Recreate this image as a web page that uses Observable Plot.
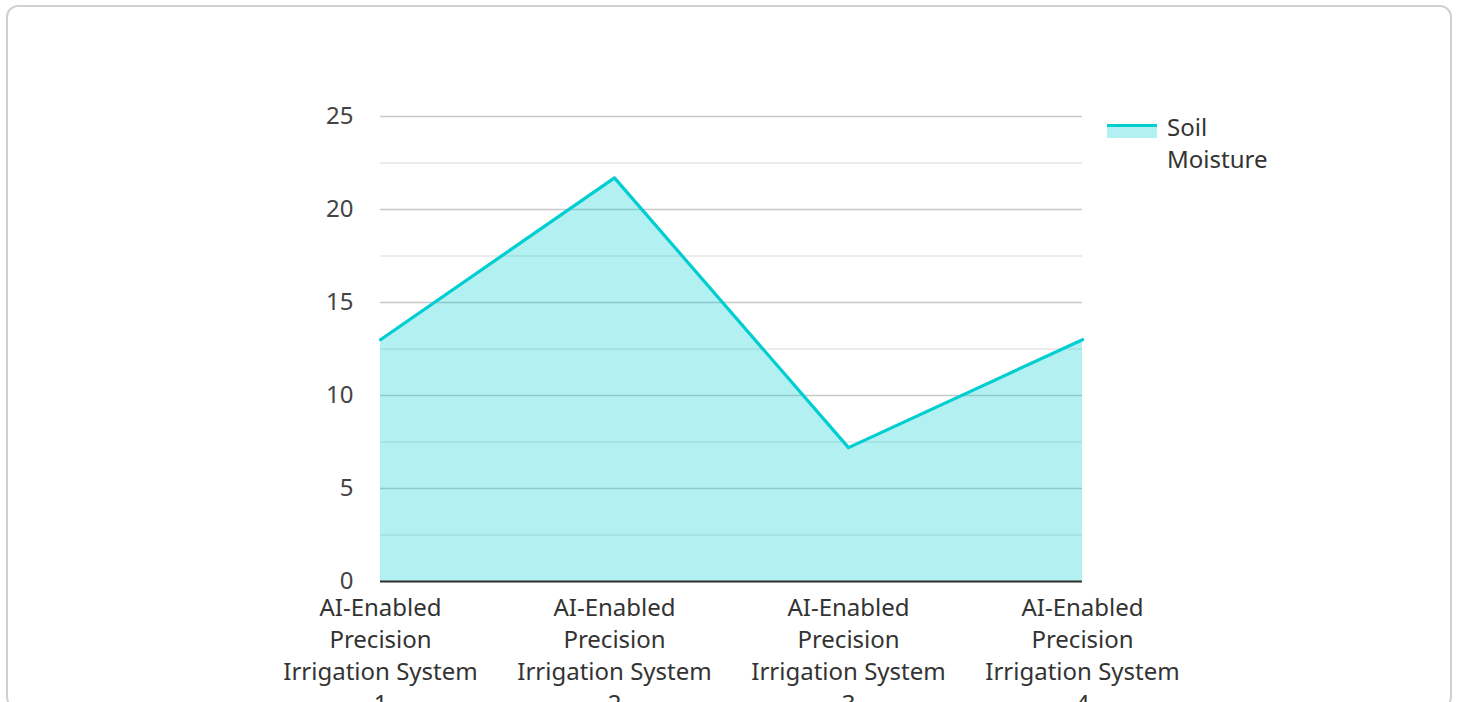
<!DOCTYPE html>
<html>
<head>
<meta charset="utf-8">
<script src="https://cdn.jsdelivr.net/npm/d3@7"></script>
<script src="https://cdn.jsdelivr.net/npm/@observablehq/plot@0.6"></script>
<style>
  html, body { margin: 0; padding: 0; background: #fff; width: 1458px; height: 702px; overflow: hidden; font-family: "Noto Sans", sans-serif; }
  #card { position: absolute; left: 6px; top: 5px; width: 1442px; height: 700px; border: 2px solid #d0d0d0; border-radius: 12px; box-sizing: content-box; }
  #chart { position: absolute; left: 0; top: 0; }
  #legend { position: absolute; left: 1107px; top: 111px; display: flex; align-items: flex-start; font-size: 24px; color: #333; line-height: 32px; }
  #legend .sw { width: 50px; height: 14px; margin-top: 13px; background: rgb(179,240,241); border-top: 3px solid #00ced1; box-sizing: border-box; }
  #legend .lb { margin-left: 10px; }
</style>
</head>
<body>
<div id="card"></div>
<div id="chart"></div>
<div id="legend"><div class="sw"></div><div class="lb">Soil<br>Moisture</div></div>
<script>
const categories = [
  "AI-Enabled Precision Irrigation System 1",
  "AI-Enabled Precision Irrigation System 2",
  "AI-Enabled Precision Irrigation System 3",
  "AI-Enabled Precision Irrigation System 4"
];
const soilMoisture = [13, 21.7, 7.2, 13];
const yTicks = [0, 5, 10, 15, 20, 25];
const yMinor = [2.5, 7.5, 12.5, 17.5, 22.5];

const data = categories.map((c, i) => ({category: c, value: soilMoisture[i]}));
const wrap = s => s.replace("AI-Enabled ", "AI-Enabled\n").replace("Precision ", "Precision\n").replace(/ (\d+)$/, "\n$1");

const chart = Plot.plot({
  width: 1458,
  height: 702,
  marginLeft: 380,
  marginRight: 376,
  marginTop: 116,
  marginBottom: 121,
  style: {fontFamily: "Noto Sans, sans-serif", fontSize: "24px", color: "#444", background: "transparent", overflow: "visible"},
  x: {type: "point", domain: categories, padding: 0, label: null},
  y: {domain: [0, 25], label: null},
  marks: [
    Plot.ruleY(yMinor, {stroke: "#e6e6e6", strokeWidth: 1.5}),
    Plot.ruleY(yTicks, {stroke: "#c8c8c8", strokeWidth: 1.5}),
    Plot.areaY(data, {x: "category", y: "value", fill: "#00ced1", fillOpacity: 0.3}),
    Plot.lineY(data, {x: "category", y: "value", stroke: "#00ced1", strokeWidth: 3.2}),
    Plot.ruleY([0], {stroke: "#333", strokeWidth: 2}),
    Plot.axisY({ticks: yTicks, tickSize: 0, tickPadding: 27, fontSize: 24, fill: "#444", label: null}),
    Plot.axisX({tickSize: 0, tickPadding: 12, fontSize: 24, fill: "#333", tickFormat: wrap, lineHeight: 1.333, label: null})
  ]
});
document.getElementById("chart").appendChild(chart);
</script>
</body>
</html>
